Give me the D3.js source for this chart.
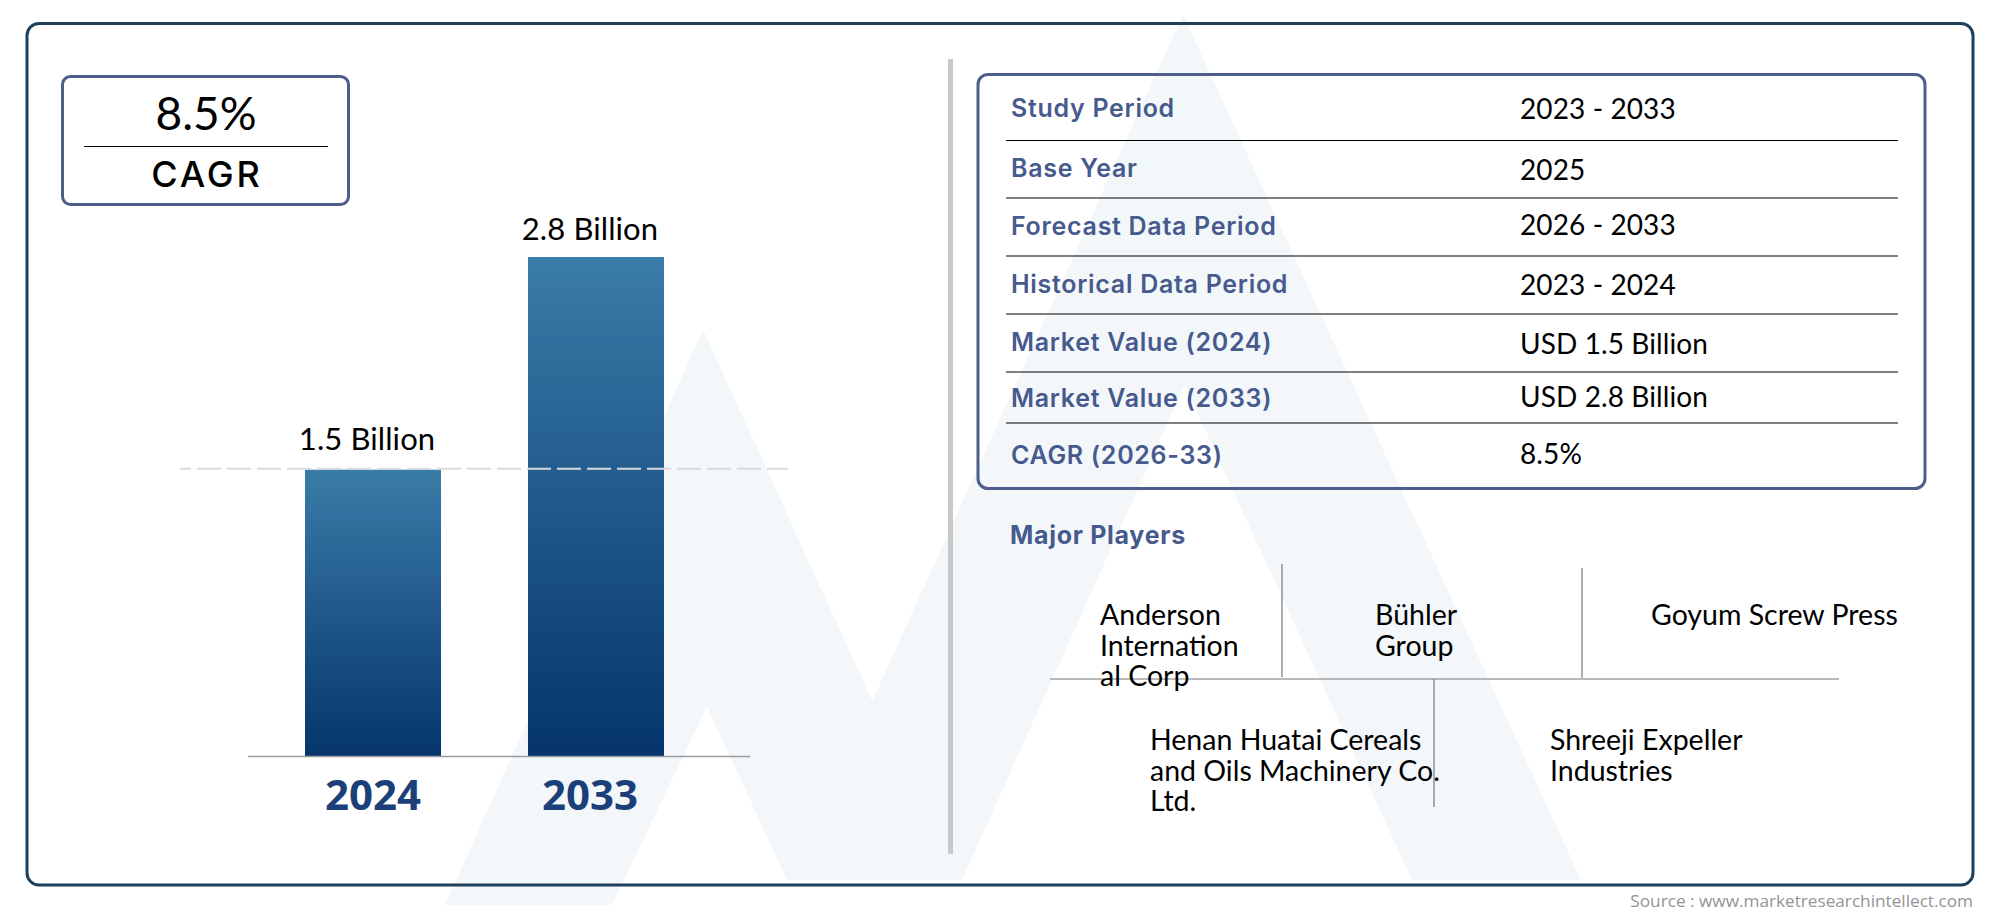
<!DOCTYPE html>
<html>
<head>
<meta charset="utf-8">
<title>Market overview</title>
<script src="https://cdn.jsdelivr.net/npm/d3@7/dist/d3.min.js"></script>
<style>
html, body { margin: 0; padding: 0; background: #fff; }
svg { display: block; }
</style>
</head>
<body>
<div class="container"></div>

<script>
// chart values
var years = ["2024", "2033"];
var marketValues = [1.5, 2.8];
var barLabels = ["1.5 Billion", "2.8 Billion"];

// summary table
var rowNames = ["Study Period", "Base Year", "Forecast Data Period", "Historical Data Period",
                "Market Value (2024)", "Market Value (2033)", "CAGR (2026-33)"];
var rowValues = ["2023 - 2033", "2025", "2026 - 2033", "2023 - 2024",
                 "USD 1.5 Billion", "USD 2.8 Billion", "8.5%"];

// major players, one entry per wrapped line block
var players = [
    ["Anderson", "Internation", "al Corp"],
    ["Bühler", "Group"],
    ["Goyum Screw Press"],
    ["Henan Huatai Cereals", "and Oils Machinery Co.", "Ltd."],
    ["Shreeji Expeller", "Industries"]
];

var width = 2000, height = 917;

// layout
var nameBase = [117, 177, 235, 293, 351, 407, 464];
var valueBase = [119, 180, 235, 295, 354, 407, 464];
var ruleY = [140.5, 198, 256, 314, 372, 423];
var playerPos = [[1100, 625], [1375, 625], [1651, 625], [1150, 750], [1550, 750]];

var jost = "Lato, sans-serif", mont = "Inter, sans-serif";
var navy = "#1c3f5c", slate = "#4d5e8c", label = "#475a8e";

var svg = d3.select(".container").append("svg")
    .attr("width", width)
    .attr("height", height);

var grad = svg.append("defs").append("linearGradient")
    .attr("id", "barFill")
    .attr("x1", 0).attr("y1", 0).attr("x2", 0).attr("y2", 1);
grad.append("stop").attr("offset", "0%").attr("stop-color", "#3a7ca8");
grad.append("stop").attr("offset", "100%").attr("stop-color", "#05356c");

// background logo, four crossing bands
var bands = [
    [[445, 905], [612, 905], [793, 527], [703, 330]],
    [[703, 330], [954, 880], [787, 880], [619, 516]],
    [[791, 880], [962, 880], [1268, 200], [1183, 15]],
    [[1183, 15], [1581, 880], [1412, 880], [1099, 199]]
];
svg.append("g").selectAll("path")
    .data(bands)
    .enter().append("path")
    .attr("d", function(d) { return d3.line()(d) + "Z"; })
    .attr("fill", "#f2f6fa")
    .attr("fill-opacity", 0.9);

// outer frame
svg.append("rect")
    .attr("x", 27).attr("y", 23.5)
    .attr("width", 1946).attr("height", 861.5)
    .attr("rx", 12)
    .attr("fill", "none")
    .attr("stroke", navy)
    .attr("stroke-width", 3);

// centre divider
svg.append("line")
    .attr("x1", 950.5).attr("x2", 950.5)
    .attr("y1", 59).attr("y2", 854)
    .attr("stroke", "#c9c9c9")
    .attr("stroke-width", 5);

// CAGR box
svg.append("rect")
    .attr("x", 62.5).attr("y", 76.5)
    .attr("width", 286).attr("height", 128)
    .attr("rx", 8)
    .attr("fill", "none")
    .attr("stroke", slate)
    .attr("stroke-width", 3);
svg.append("line")
    .attr("x1", 84).attr("x2", 328)
    .attr("y1", 146.5).attr("y2", 146.5)
    .attr("stroke", "#000")
    .attr("stroke-width", 1);
svg.append("text")
    .attr("x", 206).attr("y", 130)
    .attr("text-anchor", "middle")
    .style("font", "46px " + jost)
    .text("8.5%");
svg.append("text")
    .attr("x", 207).attr("y", 187)
    .attr("text-anchor", "middle")
    .style("font", "500 36px " + mont)
    .style("letter-spacing", "2.8px")
    .text("CAGR");

// bars
var x = d3.scaleBand()
    .domain(years)
    .range([305, 664])
    .paddingInner(0.39);

// bars in the reference do not start at zero, so the domain goes a little below it
var y = d3.scaleLinear()
    .domain([-0.25, 2.8])
    .range([756, 257]);

var bars = marketValues.map(function(v, i) { return {year: years[i], value: v, text: barLabels[i]}; });

svg.append("g").selectAll("rect")
    .data(bars)
    .enter().append("rect")
    .attr("x", function(d) { return x(d.year); })
    .attr("y", function(d) { return y(d.value); })
    .attr("width", x.bandwidth())
    .attr("height", function(d) { return y(y.domain()[0]) - y(d.value); })
    .attr("fill", "url(#barFill)");

svg.append("g").selectAll("text")
    .data(bars)
    .enter().append("text")
    .attr("x", function(d) { return x(d.year) + x.bandwidth() / 2 - 6; })
    .attr("y", function(d) { return y(d.value) - (d.value > 2 ? 17 : 20); })
    .attr("text-anchor", "middle")
    .style("font", "31px " + jost)
    .style("letter-spacing", "0.1px")
    .text(function(d) { return d.text; });

// dashed reference line at the 2024 value
svg.append("line")
    .attr("x1", 180).attr("x2", 788)
    .attr("y1", y(marketValues[0]) - 1).attr("y2", y(marketValues[0]) - 1)
    .attr("stroke", "#d9d9de")
    .attr("stroke-width", 2)
    .attr("stroke-dasharray", "24 6")
    .attr("stroke-dashoffset", 13);

// baseline and year labels
svg.append("line")
    .attr("x1", 248).attr("x2", 750)
    .attr("y1", 756.5).attr("y2", 756.5)
    .attr("stroke", "#9a9ca0")
    .attr("stroke-width", 1.5);

var axis = svg.append("g")
    .attr("transform", "translate(0,756)")
    .call(d3.axisBottom(x).tickSize(0));
axis.select(".domain").remove();
axis.selectAll("text")
    .attr("x", function(d, i) { return i ? -6 : 0; })
    .attr("y", 54)
    .attr("dy", 0)
    .style("font", "700 42px 'Open Sans', sans-serif")
    .attr("fill", "#1b4079");

// summary table
svg.append("rect")
    .attr("x", 978).attr("y", 74.5)
    .attr("width", 947).attr("height", 414)
    .attr("rx", 10)
    .attr("fill", "none")
    .attr("stroke", slate)
    .attr("stroke-width", 3);

svg.append("g").selectAll("line")
    .data(ruleY)
    .enter().append("line")
    .attr("x1", 1006).attr("x2", 1898)
    .attr("y1", function(d) { return d; }).attr("y2", function(d) { return d; })
    .attr("stroke", "#000")
    .attr("stroke-width", 1.2);

svg.append("g").selectAll("text")
    .data(rowNames)
    .enter().append("text")
    .attr("x", 1011)
    .attr("y", function(d, i) { return nameBase[i]; })
    .attr("fill", label)
    .style("font", "600 25px " + mont)
    .style("letter-spacing", "0.7px")
    .text(function(d) { return d; });

svg.append("g").selectAll("text")
    .data(rowValues)
    .enter().append("text")
    .attr("x", 1520)
    .attr("y", function(d, i) { return valueBase[i]; })
    .style("font", "28px " + jost)
    .style("letter-spacing", "0.1px")
    .text(function(d) { return d; });

// major players
svg.append("text")
    .attr("x", 1010).attr("y", 544)
    .attr("fill", label)
    .style("font", "700 25px " + mont)
    .style("letter-spacing", "0.7px")
    .text("Major Players");

var treeLines = [
    [1050, 679, 1839, 679],
    [1282, 564, 1282, 677],
    [1582, 568, 1582, 678],
    [1434, 679, 1434, 807]
];
svg.append("g").selectAll("line")
    .data(treeLines)
    .enter().append("line")
    .attr("x1", function(d) { return d[0]; })
    .attr("y1", function(d) { return d[1]; })
    .attr("x2", function(d) { return d[2]; })
    .attr("y2", function(d) { return d[3]; })
    .attr("stroke", "#777")
    .attr("stroke-width", 1.2);

svg.append("g").selectAll("text")
    .data(players)
    .enter().append("text")
    .attr("transform", function(d, i) { return "translate(" + playerPos[i] + ")"; })
    .style("font", "28.5px " + jost)
    .selectAll("tspan")
    .data(function(d) { return d; })
    .enter().append("tspan")
    .attr("x", 0)
    .attr("y", function(d, i) { return i * 30.5; })
    .text(function(d) { return d; });

// source line
svg.append("text")
    .attr("x", 1973).attr("y", 907)
    .attr("text-anchor", "end")
    .attr("fill", "#949494")
    .style("font", "17.2px 'Open Sans', sans-serif")
    .text("Source : www.marketresearchintellect.com");
</script>
</body>
</html>
